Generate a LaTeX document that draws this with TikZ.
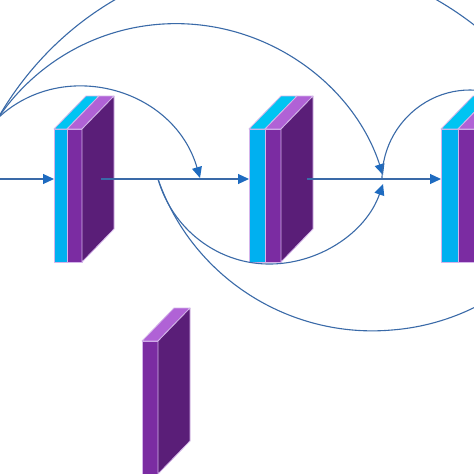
\documentclass[tikz,border=0pt]{standalone}
\usetikzlibrary{arrows.meta}
\definecolor{cyanfront}{HTML}{00B0F0}
\definecolor{cyantop}{HTML}{00C4F2}
\definecolor{purplefront}{HTML}{7B2CA2}
\definecolor{purpletop}{HTML}{B062D6}
\definecolor{purpleside}{HTML}{5A1E78}
\definecolor{edgecol}{HTML}{D4B4EA}
\definecolor{linecol}{HTML}{3A6AA8}
\definecolor{tipcol}{HTML}{1E6BC0}
\tikzset{
  faceedge/.style={draw=edgecol,line width=0.8pt,line join=round},
  conn/.style={draw=linecol,line width=1.1pt},
  arr/.style={conn,-{Triangle[length=11pt,width=10pt,fill=tipcol,color=tipcol]}},
}
\begin{document}
\begin{tikzpicture}[x=1pt,y=-1pt]
\useasboundingbox (0,0) rectangle (474,474);
\clip (0,0) rectangle (474,474);
\fill[white] (0,0) rectangle (474,474);
% blocks with a cyan and a purple layer
\foreach \x/\c/\p in {54/13/15, 249/16/16, 441/17/17}{
  \fill[cyanfront,faceedge] (\x,129) rectangle ({\x+\c},262);
  \fill[purplefront,faceedge] ({\x+\c},129) rectangle ({\x+\c+\p},262);
  \fill[cyantop,faceedge] (\x,129) -- ({\x+\c},129) -- ({\x+\c+32},96) -- ({\x+32},96) -- cycle;
  \fill[purpletop,faceedge] ({\x+\c},129) -- ({\x+\c+\p},129) -- ({\x+\c+\p+32},96) -- ({\x+\c+32},96) -- cycle;
  \fill[purpleside,faceedge] ({\x+\c+\p},129) -- ({\x+\c+\p+32},96) -- ({\x+\c+\p+32},229) -- ({\x+\c+\p},262) -- cycle;
}
% lone purple block
\fill[purplefront,faceedge] (142,341) rectangle (158,476);
\fill[purpletop,faceedge] (142,341) -- (158,341) -- (190,308) -- (174,308) -- cycle;
\fill[purpleside,faceedge] (158,341) -- (190,308) -- (190,441) -- (158,474) -- cycle;
% named points
\coordinate (in) at (0,179);
\coordinate (b1in) at (54,179);
\coordinate (b1out) at (101,179);
\coordinate (b2in) at (249,179);
\coordinate (b2out) at (307,179);
\coordinate (b3in) at (441,179);
\coordinate (src) at (-2,118);
\coordinate (j1) at (200,178);
\coordinate (split) at (158,179);
\coordinate (j2a) at (383,175);
\coordinate (j2b) at (383,184);
\coordinate (j2) at (382,179);
\coordinate (offR) at (598,143);
\coordinate (offT) at (568,143);
\coordinate (offF) at (514,102);
% straight connectors
\draw[arr] (in) -- (b1in);
\draw[arr] (b1out) -- (b2in);
\draw[arr] (b2out) -- (b3in);
% curved connectors
\draw[arr] (src) .. controls (63,57) and (174,88) .. (j1);
\draw[arr] (src) .. controls (46,48) and (127,14) .. (208,26)
                 .. controls (289,38) and (357,95) .. (j2a);
\draw[conn] (src) .. controls (61,9) and (174,-49) .. (293,-43)
                  .. controls (412,-36) and (518,35) .. (offT);
\draw[arr] (split) .. controls (172,228) and (216,263) .. (267,264)
                   .. controls (318,265) and (366,233) .. (j2b);
\draw[conn] (split) .. controls (192,277) and (289,339) .. (392,330)
                    .. controls (495,322) and (580,245) .. (offR);
\draw[conn] (j2) .. controls (382,147) and (399,118) .. (426,102)
                 .. controls (453,86) and (487,86) .. (offF);
\end{tikzpicture}
\end{document}
